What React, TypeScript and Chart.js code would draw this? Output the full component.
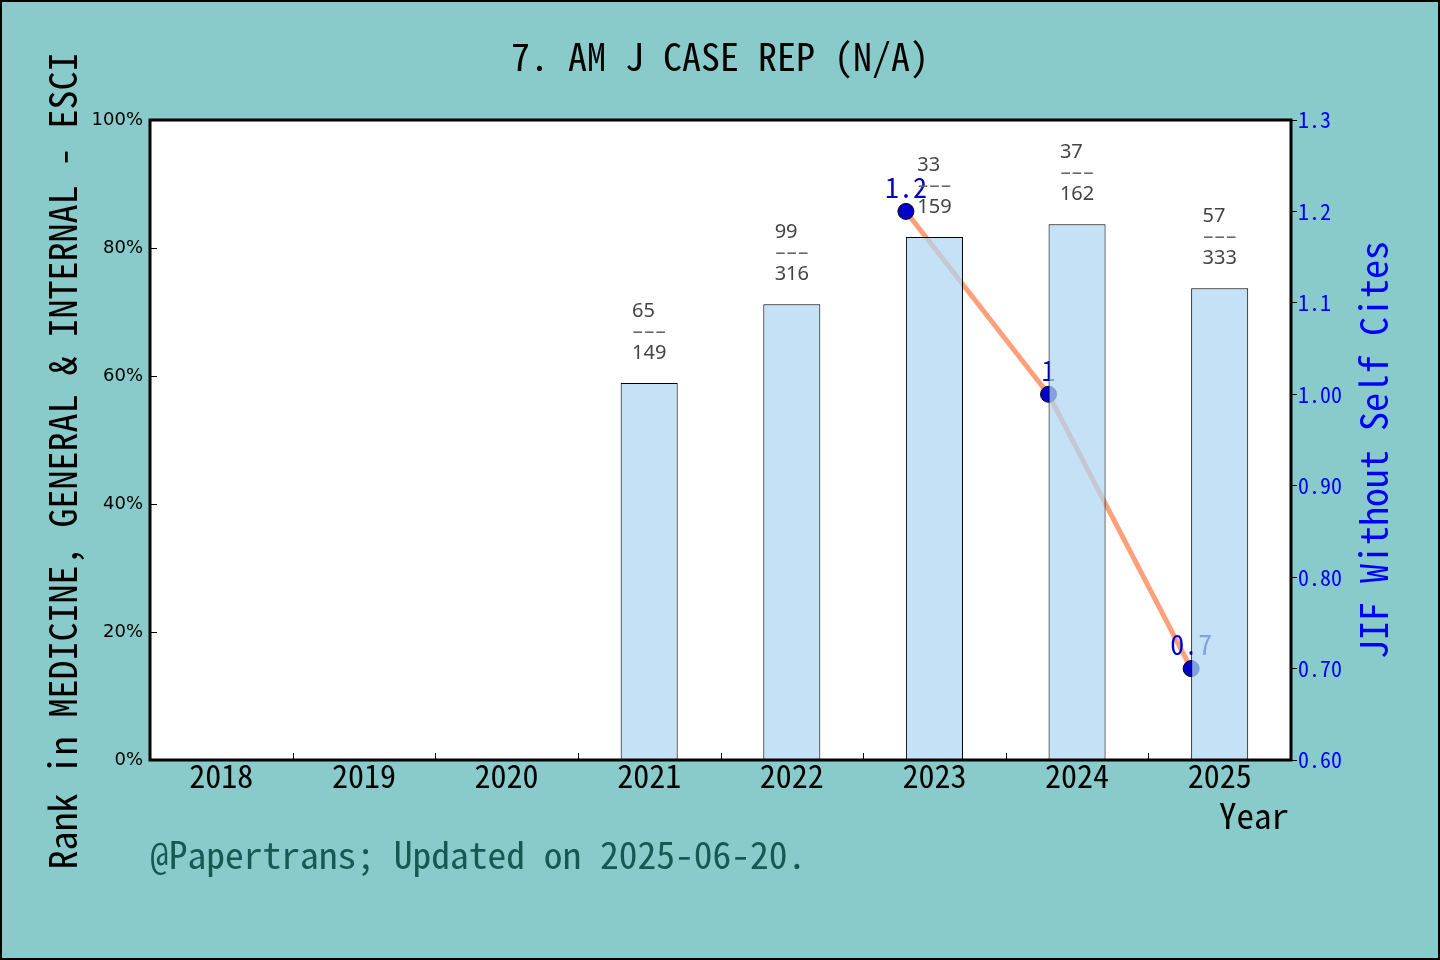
import { useEffect, useRef } from "react";
import { Chart, registerables } from "chart.js";

Chart.register(...registerables);

const years = ["2018", "2019", "2020", "2021", "2022", "2023", "2024", "2025"];
const rankPercent = [null, null, null, 58.9, 71.2, 81.7, 83.7, 73.7];
const rankNo = [null, null, null, 65, 99, 33, 37, 57];
const rankTotal = [null, null, null, 149, 316, 159, 162, 333];
// JIF without self cites, right axis
const jifNoSelf = [null, null, null, null, null, 1.2, 1.0, 0.7];
const jifText = ["", "", "", "", "", "1.2", "1", "0.7"];
const rightTicks = [0.6, 0.7, 0.8, 0.9, 1.0, 1.1, 1.2, 1.3];
const rightTickText = ["0.60", "0.70", "0.80", "0.90", "1.00", "1.1", "1.2", "1.3"];

const MONO = '"Noto Sans Mono CJK SC", "DejaVu Sans Mono", monospace';
const SANS = '"Noto Sans", "DejaVu Sans", sans-serif';
const BG = "#88CBCA";

const decor = {
  id: "decor",
  beforeDraw(chart) {
    const { ctx, chartArea: a, width, height } = chart;
    ctx.save();
    ctx.fillStyle = BG;
    ctx.fillRect(0, 0, width, height);
    ctx.fillStyle = "#ffffff";
    ctx.fillRect(a.left, a.top, a.right - a.left, a.bottom - a.top);
    ctx.restore();
  },
  afterDatasetDraw(chart, args) {
    // value labels of the line, drawn before the bars so bars cover them
    if (args.index !== 1) return;
    const { ctx } = chart;
    ctx.save();
    ctx.font = `28px ${MONO}`;
    ctx.fillStyle = "#0000CD";
    ctx.textAlign = "center";
    ctx.textBaseline = "middle";
    args.meta.data.forEach((pt, i) => {
      if (jifNoSelf[i] == null) return;
      ctx.fillText(jifText[i], pt.x, pt.y - 24);
    });
    ctx.restore();
  },
  afterDatasetsDraw(chart) {
    const { ctx, chartArea: a } = chart;
    ctx.save();
    // rank labels above bars
    ctx.font = `20px ${SANS}`;
    ctx.fillStyle = "#444444";
    ctx.textAlign = "left";
    ctx.textBaseline = "middle";
    chart.getDatasetMeta(0).data.forEach((bar, i) => {
      if (rankNo[i] == null) return;
      const top = String(rankNo[i]);
      const bottom = String(rankTotal[i]);
      const w = Math.max(ctx.measureText(top).width, ctx.measureText(bottom).width);
      const x0 = bar.x - w / 2;
      ctx.fillText(top, x0, bar.y - 72);
      const dw = ctx.measureText("---").width;
      ctx.save();
      ctx.fillStyle = "#666666";
      ctx.translate(x0, bar.y - 51);
      ctx.scale(w / dw, 1);
      ctx.fillText("---", 0, 0);
      ctx.restore();
      ctx.fillText(bottom, x0, bar.y - 30);
    });

    // frame
    ctx.strokeStyle = "#000";
    ctx.lineWidth = 3;
    ctx.strokeRect(a.left, a.top, a.right - a.left, a.bottom - a.top);

    // inward ticks
    ctx.lineWidth = 1;
    const y = chart.scales.y;
    y.ticks.forEach((t) => {
      const py = Math.round(y.getPixelForValue(t.value)) + 0.5;
      ctx.beginPath();
      ctx.moveTo(a.left, py);
      ctx.lineTo(a.left + 7, py);
      ctx.stroke();
    });
    const x = chart.scales.x;
    for (let i = 1; i < years.length; i++) {
      const px = Math.round((x.getPixelForTick(i - 1) + x.getPixelForTick(i)) / 2) + 0.5;
      ctx.beginPath();
      ctx.moveTo(px, a.bottom);
      ctx.lineTo(px, a.bottom - 7);
      ctx.stroke();
    }
    ctx.restore();
  },
  afterDraw(chart) {
    const { ctx, width, height } = chart;
    ctx.save();
    ctx.textBaseline = "middle";

    ctx.fillStyle = "#000";
    ctx.font = `38px ${MONO}`;
    ctx.textAlign = "center";
    ctx.fillText("7. AM J CASE REP (N/A)", 720, 57);

    ctx.save();
    ctx.translate(63, 461);
    ctx.rotate(-Math.PI / 2);
    ctx.fillText("Rank in MEDICINE, GENERAL & INTERNAL - ESCI", 0, 0);
    ctx.restore();

    ctx.save();
    ctx.fillStyle = "#0000FF";
    ctx.translate(1374, 450);
    ctx.rotate(-Math.PI / 2);
    ctx.fillText("JIF Without Self Cites", 0, 0);
    ctx.restore();

    ctx.font = `35px ${MONO}`;
    ctx.textAlign = "right";
    ctx.fillText("Year", 1289, 816);

    ctx.font = `37.5px ${MONO}`;
    ctx.textAlign = "left";
    ctx.fillStyle = "#145A52";
    ctx.fillText("@Papertrans; Updated on 2025-06-20.", 150, 855);

    ctx.strokeStyle = "#000";
    ctx.lineWidth = 2;
    ctx.strokeRect(1, 1, width - 2, height - 2);
    ctx.restore();
  },
};

export default function App() {
  const ref = useRef<HTMLCanvasElement>(null);

  useEffect(() => {
    document.body.style.margin = "0";
    if (!ref.current) return;
    const chart = new Chart(ref.current, {
      type: "bar",
      data: {
        labels: years,
        datasets: [
          {
            type: "bar",
            data: rankPercent,
            xAxisID: "x",
            yAxisID: "y",
            backgroundColor: "rgba(177,214,241,0.74)",
            borderColor: "#000",
            borderWidth: 1,
            barPercentage: 0.4,
            categoryPercentage: 1,
            grouped: false,
            order: 0,
          },
          {
            type: "line",
            data: jifNoSelf.map((v, i) => ({ x: i, y: v })),
            xAxisID: "x2",
            yAxisID: "y1",
            borderColor: "#FFA07A",
            borderWidth: 5,
            pointRadius: 8,
            pointBackgroundColor: "#0000CD",
            pointBorderColor: "#000",
            pointBorderWidth: 1,
            order: 1,
          },
        ],
      },
      options: {
        responsive: false,
        animation: false,
        layout: { padding: { top: 120 } },
        plugins: {
          legend: { display: false },
          tooltip: { enabled: false },
        },
        scales: {
          x: {
            type: "category",
            offset: true,
            grid: { display: false, drawTicks: false },
            border: { display: false },
            ticks: {
              color: "#000",
              font: { family: MONO, size: 32 },
              padding: -3,
              maxRotation: 0,
            },
            afterFit: (s) => {
              s.height = 200;
            },
          },
          x2: {
            type: "linear",
            display: false,
            offset: false,
            min: -0.3,
            max: 7.7,
          },
          y: {
            position: "left",
            min: 0,
            max: 100,
            grid: { display: false, drawTicks: false },
            border: { display: false },
            ticks: {
              stepSize: 20,
              color: "#000",
              font: { family: '"DejaVu Sans", sans-serif', size: 18 },
              padding: 7,
              callback: (v) => `${v}%`,
            },
            afterFit: (s) => {
              s.width = 150;
            },
          },
          y1: {
            position: "right",
            min: 0.6,
            max: 1.3,
            grid: { drawOnChartArea: false, tickLength: 6, color: "#000", lineWidth: 1 },
            border: { display: false },
            afterBuildTicks: (s) => {
              s.ticks = rightTicks.map((v) => ({ value: v }));
            },
            ticks: {
              color: "#0000FF",
              font: { family: MONO, size: 22 },
              padding: 1,
              callback: (_v, i) => rightTickText[i],
            },
            afterFit: (s) => {
              s.width = 149;
            },
          },
        },
      },
      plugins: [decor],
    });
    return () => chart.destroy();
  }, []);

  return (
    <div style={{ width: 1440, height: 960 }}>
      <canvas ref={ref} width={1440} height={960}></canvas>
    </div>
  );
}
